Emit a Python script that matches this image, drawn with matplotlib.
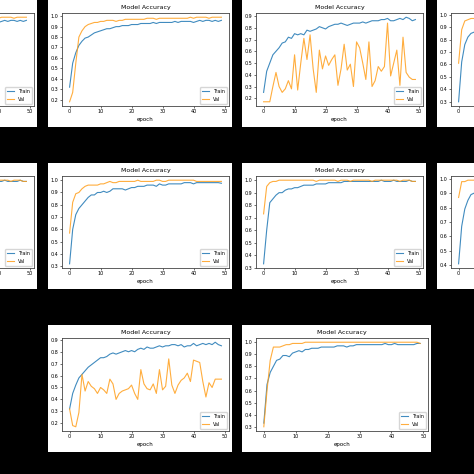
import matplotlib.pyplot as plt

epochs = list(range(50))

# row 1
b_train = [0.32,0.55,0.65,0.72,0.76,0.79,0.80,0.82,0.84,0.85,0.86,0.87,0.88,0.88,0.89,0.90,0.90,0.91,0.91,0.91,
           0.92,0.92,0.92,0.93,0.93,0.93,0.93,0.94,0.93,0.94,0.94,0.94,0.94,0.94,0.95,0.94,0.95,0.95,0.95,0.95,
           0.94,0.95,0.96,0.95,0.96,0.96,0.95,0.96,0.95,0.96]
b_val = [0.18,0.27,0.55,0.80,0.86,0.90,0.92,0.93,0.94,0.94,0.95,0.95,0.96,0.96,0.96,0.95,0.96,0.96,0.97,0.97,
         0.97,0.97,0.97,0.97,0.97,0.98,0.98,0.98,0.97,0.98,0.98,0.98,0.98,0.98,0.98,0.98,0.98,0.98,0.98,0.99,
         0.98,0.99,0.99,0.99,0.99,0.98,0.99,0.99,0.99,0.99]
c_train = [0.25,0.43,0.50,0.57,0.60,0.63,0.67,0.68,0.72,0.71,0.75,0.74,0.75,0.74,0.78,0.77,0.78,0.79,0.81,0.80,
           0.79,0.81,0.82,0.83,0.83,0.84,0.83,0.82,0.83,0.84,0.84,0.84,0.85,0.84,0.85,0.86,0.86,0.86,0.87,0.87,
           0.88,0.86,0.86,0.87,0.88,0.87,0.89,0.88,0.86,0.87]
c_val = [0.17,0.17,0.17,0.30,0.42,0.30,0.25,0.28,0.35,0.28,0.57,0.27,0.50,0.71,0.53,0.74,0.45,0.25,0.61,0.45,
         0.56,0.48,0.53,0.57,0.31,0.45,0.66,0.44,0.49,0.30,0.68,0.63,0.50,0.36,0.68,0.30,0.35,0.47,0.43,0.47,
         0.84,0.39,0.50,0.61,0.31,0.72,0.42,0.38,0.36,0.36]
d_train = [0.30,0.62,0.76,0.82,0.85,0.86,0.87,0.88,0.89,0.90,0.90,0.91,0.91,0.92,0.92,0.92,0.93,0.93,0.93,0.93,
           0.94,0.94,0.94,0.94,0.94,0.95,0.95,0.95,0.95,0.95,0.95,0.95,0.96,0.96,0.96,0.96,0.96,0.96,0.96,0.96,
           0.96,0.96,0.96,0.97,0.97,0.97,0.97,0.97,0.97,0.97]
d_val = [0.61,0.88,0.95,0.96,0.97,0.97,0.97,0.97,0.97,0.98,0.98,0.98,0.98,0.98,0.98,0.98,0.98,0.98,0.98,0.98,
         0.98,0.98,0.98,0.98,0.98,0.98,0.98,0.98,0.98,0.98,0.98,0.98,0.98,0.98,0.98,0.98,0.98,0.98,0.98,0.98,
         0.98,0.98,0.98,0.98,0.98,0.98,0.98,0.98,0.98,0.98]

# row 2
f_train = [0.32,0.60,0.72,0.77,0.80,0.83,0.86,0.88,0.88,0.90,0.90,0.91,0.90,0.91,0.93,0.93,0.93,0.93,0.92,0.93,
           0.94,0.94,0.95,0.95,0.95,0.96,0.96,0.96,0.95,0.97,0.96,0.96,0.97,0.97,0.97,0.97,0.97,0.98,0.98,0.98,
           0.97,0.98,0.98,0.98,0.98,0.98,0.98,0.98,0.98,0.975]
f_val = [0.57,0.82,0.89,0.90,0.93,0.95,0.96,0.96,0.96,0.96,0.97,0.97,0.98,0.99,0.98,0.98,0.99,0.99,0.99,0.99,
         0.99,0.99,1.00,0.99,0.99,0.99,0.99,0.99,1.00,1.00,0.99,0.99,1.00,1.00,1.00,1.00,1.00,1.00,1.00,1.00,
         1.00,0.99,0.99,0.99,0.99,0.99,0.99,0.99,0.99,0.99]
g_train = [0.33,0.60,0.82,0.85,0.88,0.90,0.90,0.92,0.93,0.93,0.94,0.94,0.95,0.96,0.96,0.96,0.96,0.97,0.97,0.97,
           0.97,0.98,0.98,0.98,0.98,0.98,0.99,0.99,0.99,0.99,0.99,0.99,0.99,0.99,0.99,0.99,0.99,0.99,1.00,0.99,
           0.99,0.99,1.00,0.99,0.99,0.99,0.99,1.00,0.99,0.99]
g_val = [0.73,0.95,0.98,0.99,0.99,1.00,1.00,1.00,1.00,1.00,1.00,1.00,1.00,1.00,1.00,1.00,1.00,0.99,1.00,1.00,
         1.00,1.00,1.00,1.00,0.99,1.00,1.00,1.00,0.99,1.00,1.00,1.00,1.00,1.00,1.00,0.99,1.00,1.00,1.00,1.00,
         1.00,1.00,1.00,1.00,0.99,1.00,1.00,1.00,0.99,0.99]
h_train = [0.41,0.67,0.79,0.85,0.89,0.90,0.91,0.92,0.93,0.93,0.94,0.94,0.95,0.95,0.95,0.96,0.96,0.96,0.96,0.97,
           0.97,0.97,0.97,0.97,0.97,0.98,0.98,0.98,0.98,0.98,0.98,0.98,0.98,0.98,0.98,0.98,0.98,0.98,0.98,0.98,
           0.98,0.98,0.98,0.98,0.98,0.98,0.98,0.98,0.98,0.98]
h_val = [0.87,0.98,0.98,0.99,0.99,0.99,0.99,0.99,0.99,0.99,0.99,0.99,0.99,0.99,0.99,0.99,0.99,0.99,0.99,0.99,
         0.99,0.99,0.99,0.99,0.99,0.99,0.99,0.99,0.99,0.99,0.99,0.99,0.99,0.99,0.99,0.99,0.99,0.99,0.99,0.99,
         0.99,0.99,0.99,0.99,0.99,0.99,0.99,0.99,0.99,0.99]

# row 3
i_train = [0.32,0.45,0.52,0.58,0.61,0.64,0.67,0.69,0.71,0.73,0.75,0.75,0.76,0.78,0.79,0.78,0.79,0.80,0.81,0.80,
           0.81,0.80,0.82,0.83,0.82,0.84,0.83,0.83,0.84,0.85,0.84,0.85,0.85,0.86,0.86,0.85,0.86,0.84,0.85,0.85,
           0.87,0.85,0.86,0.87,0.86,0.87,0.86,0.88,0.86,0.85]
i_val = [0.32,0.18,0.17,0.29,0.61,0.47,0.55,0.51,0.49,0.45,0.50,0.48,0.45,0.57,0.53,0.40,0.45,0.47,0.48,0.49,
         0.52,0.45,0.40,0.65,0.53,0.49,0.48,0.53,0.45,0.65,0.48,0.51,0.74,0.52,0.45,0.52,0.56,0.58,0.62,0.55,
         0.73,0.72,0.71,0.55,0.42,0.54,0.50,0.57,0.57,0.57]
j_train = [0.33,0.65,0.75,0.80,0.85,0.86,0.89,0.89,0.88,0.91,0.92,0.93,0.92,0.94,0.94,0.95,0.95,0.95,0.96,0.96,
           0.96,0.96,0.96,0.97,0.97,0.97,0.96,0.97,0.97,0.98,0.98,0.98,0.98,0.98,0.98,0.98,0.98,0.98,0.99,0.98,
           0.98,0.99,0.98,0.98,0.98,0.98,0.98,0.98,0.99,0.99]
j_val = [0.30,0.60,0.85,0.96,0.96,0.96,0.97,0.98,0.98,0.99,0.99,0.99,0.99,1.00,1.00,1.00,1.00,1.00,1.00,1.00,
         1.00,1.00,1.00,1.00,1.00,1.00,1.00,1.00,1.00,1.00,1.00,1.00,1.00,1.00,1.00,1.00,1.00,1.00,1.00,1.00,
         1.00,1.00,1.00,1.00,1.00,1.00,1.00,1.00,1.00,0.99]

W = H = 474
fig = plt.figure(figsize=(4.74, 4.74), dpi=100, facecolor='black')


def panel(x0, y0, w, h, train, val):
    bg = fig.add_axes([x0 / W, 1 - (y0 + h) / H, w / W, h / H])
    bg.set_facecolor('white')
    bg.set_xticks([]); bg.set_yticks([])
    for s in bg.spines.values():
        s.set_visible(False)
    ax = fig.add_axes([(x0 + 14) / W, 1 - (y0 + h - 21) / H, (w - 17) / W, (h - 34) / H])
    ax.plot(epochs, train, color='#1f77b4', lw=0.8, alpha=0.85, label='Train')
    ax.plot(epochs, val, color='#ff9f1c', lw=0.8, alpha=0.85, label='Val')
    ax.set_title('Model Accuracy', fontsize=4.5, pad=3)
    ax.set_xlabel('epoch', fontsize=4, labelpad=2)
    ax.set_ylabel('accuracy', fontsize=2.5, labelpad=2)
    ax.set_xticks([0, 10, 20, 30, 40, 50])
    ax.tick_params(labelsize=3.5, length=1.5, width=0.4, pad=1)
    for s in ax.spines.values():
        s.set_linewidth(0.6)
        s.set_color('#444444')
    ax.legend(loc='lower right', fontsize=3.5, handlelength=1.5, frameon=True, borderpad=0.4)


cols = [-147, 48, 242, 437]
panel(cols[0], 0, 184, 127, b_train, b_val)
panel(cols[1], 0, 184, 127, b_train, b_val)
panel(cols[2], 0, 184, 127, c_train, c_val)
panel(cols[3], 0, 184, 127, d_train, d_val)

panel(cols[0], 163, 184, 126, g_train, g_val)
panel(cols[1], 163, 184, 126, f_train, f_val)
panel(cols[2], 163, 184, 126, g_train, g_val)
panel(cols[3], 163, 184, 126, h_train, h_val)

panel(48, 325, 184, 127, i_train, i_val)
panel(242, 325, 189, 127, j_train, j_val)

fig.savefig('out.png', dpi=100, facecolor='black')
